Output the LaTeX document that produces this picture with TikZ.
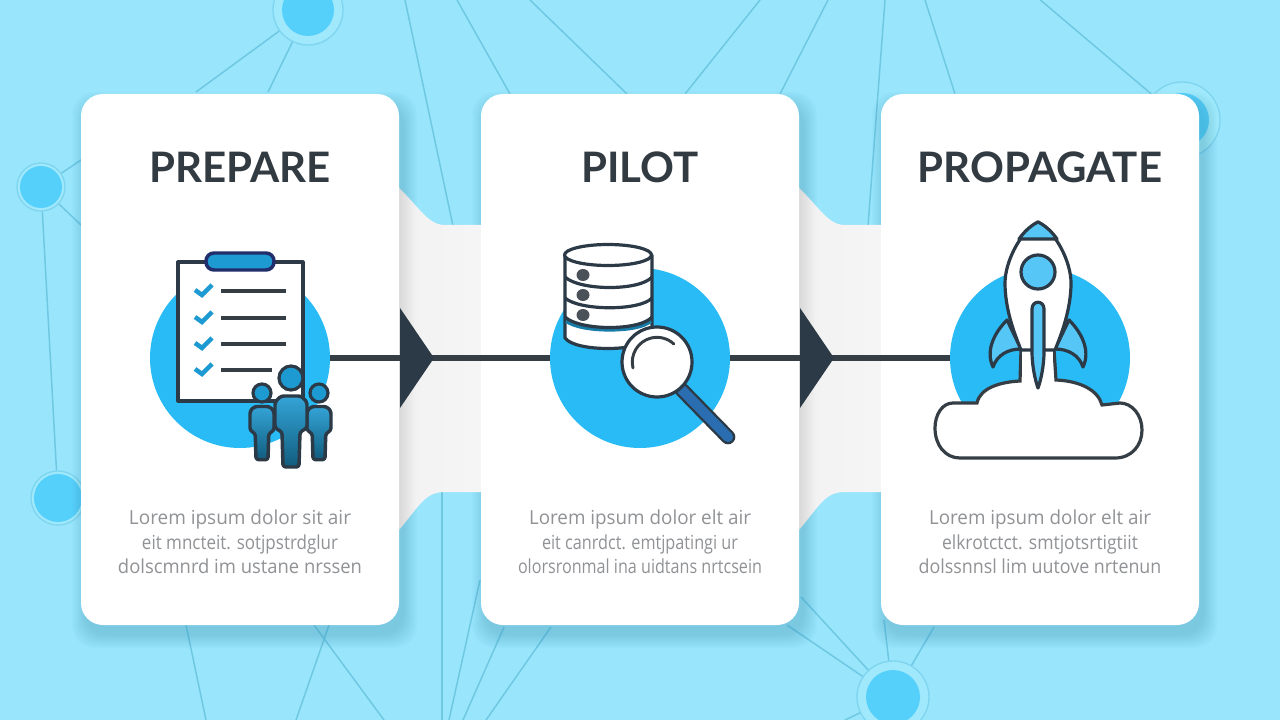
\documentclass[tikz,border=0pt]{standalone}
\usepackage{fontspec}
\setsansfont{Lato}
\newfontfamily\bodyfont{Open Sans}
\usepackage{tikz}
\definecolor{skybg}{HTML}{98E5FC}
\definecolor{netblue}{HTML}{6FC8E2}
\definecolor{hubpale}{HTML}{A0E9FC}
\definecolor{hubring}{HTML}{7FD5EF}
\definecolor{hubcore}{HTML}{55D0FB}
\definecolor{discblue}{HTML}{29BBF5}
\definecolor{inkdark}{HTML}{2B3A46}
\definecolor{inkline}{HTML}{363E45}
\definecolor{titleink}{HTML}{333B42}
\definecolor{bodygrey}{HTML}{909295}
\definecolor{softblue}{HTML}{55C6F6}
\definecolor{checkblue}{HTML}{1D9AD2}
\definecolor{handleblue}{HTML}{2A6DB0}
\definecolor{shadeblue}{HTML}{2F8FB0}
\pgfdeclarehorizontalshading{bandshade}{100bp}{color(0bp)=(black!15);color(25bp)=(black!15);color(35bp)=(black!5);color(100bp)=(black!3)}
\newcommand{\squeezed}[2]{\resizebox{#1pt}{\height}{#2}}
\tikzset{
  cardbox/.style={rectangle, fill=white, rounded corners=16.5pt, minimum width=238.5pt, minimum height=398.25pt, inner sep=0pt},
  disc/.style={circle, fill=discblue, minimum size=135pt, inner sep=0pt},
  headline/.style={font=\sffamily\bfseries\fontsize{31.5}{31.5}\selectfont, text=titleink},
  bodytext/.style={font=\bodyfont\fontsize{14.5}{18.4}\selectfont, text=bodygrey, align=center},
  netline/.style={draw=netblue, line width=1.1pt},
  ringnode/.style={circle, draw=hubring, line width=1pt, fill=hubpale, inner sep=0pt},
  corenode/.style={circle, fill=hubcore, inner sep=0pt},
  timeline/.style={draw=inkline, line width=3.8pt},
  icon/.style={draw=inkdark, line width=2.4pt, line join=round},
  person/.pic={
    \draw[draw=inkdark, line width=2.4pt, fill=checkblue] (0,0) circle (12);
    \draw[draw=inkdark, line width=2.6pt, line join=round, rounded corners=2pt, top color=checkblue!90!white, bottom color=checkblue!60!black]
      (-10,18) -- (10,18) -- (16,24) -- (16,50) -- (9,54) -- (8,89) -- (-8,89) -- (-9,54) -- (-16,50) -- (-16,24) -- cycle;
  }
}
\begin{document}
\begin{tikzpicture}[x=0.75pt, y=-0.75pt]
  \useasboundingbox (0,0) rectangle (1280,720);
  \clip (0,0) rectangle (1280,720);
  \fill[skybg] (0,0) rectangle (1280,720);

  % network behind the cards
  \foreach \name/\hx/\hy/\ro/\ri in {hubA/308/10/35/26, hubB/41/187/24/21, hubC/58/498/27/24, hubD/1182/120/38/27, hubE/893/697/36/27}{
    \node[ringnode, minimum size=\ro*1.5pt] (\name) at (\hx,\hy) {};
  }
  \foreach \name/\hx/\hy in {a1/196/92, a2/268/92, b1/81/160, b2/81/225, t1/405/0, t2/453/226, t3/457/0, t4/510/94, t5/530/0, t6/627/94, t7/760/0, t8/685/94, t9/828/0, t10/780/94, t11/885/0, t12/868/226, t13/925/0, t14/955/94, d1/1038/-2, u1/186/625, u2/206/720, u3/329/625, u4/296/720, u5/314/625, u6/384/720, u7/442/490, u8/442/720, u9/480/580, u10/449/720, u11/504/627, u12/463/720, u13/551/627, u14/486/720, e1/787/625, e2/801/597, e3/884/620, e4/934/627, e5/845/720}{
    \coordinate (\name) at (\hx,\hy);
  }
  \foreach \from/\to in {hubA/a1, hubA/a2, hubB/b1, hubB/b2, hubB/hubC, t1/t2, t3/t4, t5/t6, t7/t8, t9/t10, t11/t12, t13/t14, hubD/d1, u1/u2, u3/u4, u5/u6, u7/u8, u9/u10, u11/u12, u13/u14, hubE/e1, hubE/e2, hubE/e3, hubE/e4, hubE/e5}{
    \draw[netline] (\from) -- (\to);
  }
  \foreach \name/\ri in {hubA/26, hubB/21, hubC/24, hubD/27, hubE/27}{
    \node[corenode, minimum size=\ri*1.5pt] (\name core) at (\name) {};
  }

  % soft shadows
  \foreach \cx in {240,640,1040}{
    \foreach \r in {1,...,14}{
      \fill[shadeblue, opacity=.018, rounded corners=16.5pt] ({\cx-154-\r},{106-\r}) rectangle ({\cx+163+\r},{634+\r});
    }
  }

  % bands between the cards
  \foreach \dx in {0,400}{
    \shade[shading=bandshade] (399+\dx,188) .. controls (420+\dx,208) and (428+\dx,225) .. (445+\dx,225) -- (482+\dx,225) -- (482+\dx,492) -- (445+\dx,492) .. controls (425+\dx,492) and (420+\dx,505) .. (399+\dx,530) -- cycle;
  }

  \node[cardbox] (cardA) at (240,359.5) {};
  \node[cardbox] (cardB) at (640,359.5) {};
  \node[cardbox] (cardC) at (1040,359.5) {};

  \node[disc] (discA) at (240,358) {};
  \node[disc] (discB) at (640,358) {};
  \node[disc] (discC) at (1040,358) {};

  \draw[timeline] (discA) -- (discB);
  \draw[timeline] (discB) -- (discC);
  \foreach \dx in {0,400}{
    \fill[inkdark] (400+\dx,308) -- (434+\dx,358) -- (400+\dx,408) -- cycle;
  }

  \node[headline] (titleA) at (240,167) {PREPARE};
  \node[headline] (titleB) at (640,167) {PILOT};
  \node[headline] (titleC) at (1040,167) {PROPAGATE};

  \node[bodytext] (textA) at (240,542) {\squeezed{166.5}{Lorem ipsum dolor sit air}\\\squeezed{147}{eit mncteit. sotjpstrdglur}\\\squeezed{183}{dolscmnrd im ustane nrssen}};
  \node[bodytext] (textB) at (640,542) {\squeezed{166.5}{Lorem ipsum dolor elt air}\\\squeezed{147}{eit canrdct. emtjpatingi ur}\\\squeezed{183}{olorsronmal ina uidtans nrtcsein}};
  \node[bodytext] (textC) at (1040,542) {\squeezed{166.5}{Lorem ipsum dolor elt air}\\\squeezed{147}{elkrotctct. smtjotsrtigtiit}\\\squeezed{182}{dolssnnsl lim uutove nrtenun}};

  % clipboard
  \draw[icon, fill=white] (178,262) rectangle (303,401);
  \draw[draw=inkdark!80!blue, line width=2.6pt, fill=checkblue, rounded corners=6pt] (206,253) rectangle (274,270);
  \foreach \ly in {291,318,344,370}{
    \draw[checkblue, line width=3.4pt] (195,{\ly-1}) -- (202,{\ly+4}) -- (212,{\ly-6});
  }
  \foreach \ly/\lx in {291/286, 318/286, 344/286, 370/272}{
    \draw[inkline, line width=2.6pt] (221,\ly) -- (\lx,\ly);
  }
  \pic[scale=.75] at (262,393) {person};
  \pic[scale=.75] at (319,393) {person};
  \pic at (291,378) {person};

  % database
  \draw[icon, fill=white] (565,255) -- (565,338) .. controls (575,352) and (640,352) .. (652,338) -- (652,255) -- cycle;
  \draw[icon, fill=white] (608,255) ellipse (43.5 and 10.5);
  \draw[draw=checkblue!80!black, line width=2.4pt] (566,321) .. controls (580,333) and (640,333) .. (651,321);
  \foreach \by/\bd in {277/288, 298/308, 317/328}{
    \draw[icon] (565,\by) .. controls (580,{\bd+3}) and (640,{\bd+3}) .. (652,\by);
  }
  \foreach \by in {275,295,315}{
    \fill[inkline!90!white] (583,\by) ellipse (6.5 and 6);
  }
  \draw[inkdark, line width=11pt, line cap=round] (682,390) -- (728,437);
  \draw[handleblue, line width=7.5pt, line cap=round] (682,390) -- (728,437);
  \draw[icon, fill=white] (657,362) circle (35);
  \draw[inkline, line width=2.2pt, line cap=round] (633,368) arc (166:313:24.7);

  % rocket
  \draw[draw=inkline, line width=2.4pt, fill=white] (1021,350) -- (1020,381) .. controls (1000,382) and (980,388) .. (977,403) -- (953,403) .. controls (942,403) and (935,415) .. (935,428) .. controls (935,445) and (945,458) .. (960,458) -- (1115,458) .. controls (1132,458) and (1142,445) .. (1142,430) .. controls (1142,415) and (1132,403) .. (1120,403) -- (1102,405) .. controls (1098,390) and (1080,381) .. (1056,380) -- (1054,350);
  \fill[white] (1022,345) rectangle (1053,390);
  \draw[icon, fill=softblue] (1007,320) .. controls (995,332) and (985,350) .. (993,367) .. controls (997,355) and (1008,349) .. (1021,349) -- cycle;
  \draw[icon, fill=softblue] (1069,320) .. controls (1081,332) and (1091,350) .. (1083,367) .. controls (1079,355) and (1068,349) .. (1055,349) -- cycle;
  \draw[icon, fill=white] (1038,222) .. controls (1020,232) and (1005,262) .. (1005,283) .. controls (1005,310) and (1015,335) .. (1021,350) -- (1055,350) .. controls (1061,335) and (1071,310) .. (1071,283) .. controls (1071,262) and (1056,232) .. (1038,222) -- cycle;
  \draw[icon, fill=softblue] (1038,222) .. controls (1030,226) and (1024,232) .. (1019,239) -- (1057,239) .. controls (1052,232) and (1046,226) .. (1038,222) -- cycle;
  \draw[icon, fill=softblue] (1038,272) circle (17);
  \draw[icon, fill=softblue] (1032,309) .. controls (1032,300) and (1044,300) .. (1044,309) -- (1044,352) .. controls (1044,365) and (1041,380) .. (1038,388) .. controls (1035,380) and (1032,365) .. (1032,352) -- cycle;
\end{tikzpicture}
\end{document}
